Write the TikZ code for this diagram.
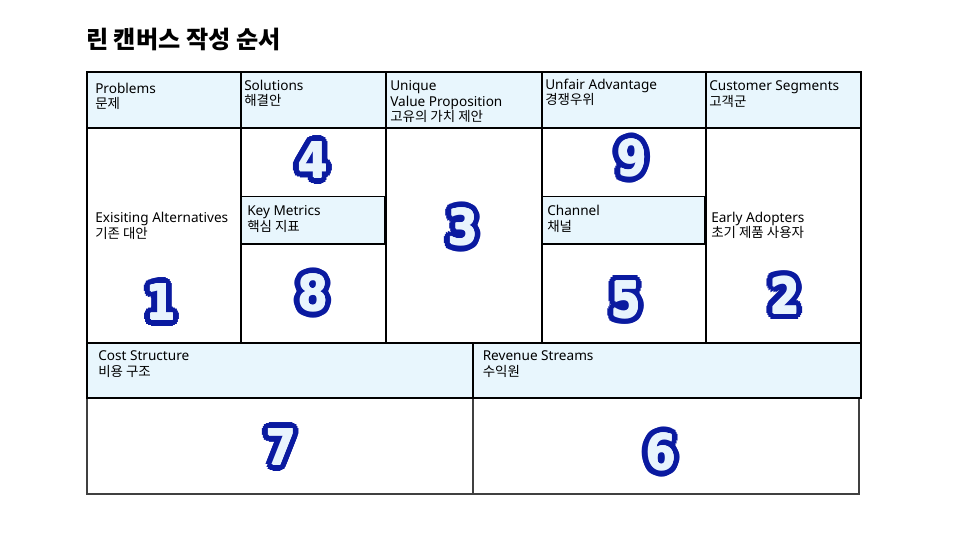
\documentclass[tikz,border=0pt]{standalone}
\usepackage{fontspec}
\setmainfont{Noto Sans}
\newfontfamily\kr{Noto Sans CJK KR}
\newfontfamily\numfont{DejaVu Sans}
\usetikzlibrary{calc}
\definecolor{hdr}{RGB}{232,246,253}
\definecolor{numdark}{RGB}{10,26,160}
\definecolor{numlight}{RGB}{232,244,253}
\tikzset{
  cell/.style={draw=black, line width=0.8pt},
  hcell/.style={cell, fill=hdr},
  lat/.style={anchor=base west, inner sep=0pt, font=\fontsize{10.2}{12}\selectfont},
  kor/.style={anchor=base west, inner sep=0pt, font=\kr\fontsize{10.1}{12}\selectfont},
  numout/.style={inner sep=0pt, text=numdark, font=\numfont\bfseries\fontsize{37}{37}\selectfont, xscale=0.87, transform shape},
  numin/.style={inner sep=0pt, text=numlight, font=\numfont\bfseries\fontsize{37}{37}\selectfont, xscale=0.87, transform shape}
}
\newcommand\bignum[3]{%
  \foreach \a in {0,22.5,...,337.5} \node[numout] at ($(#2)+(\a:6.2)$) {#3};
  \foreach \a in {0,45,...,315} \node[numout] at ($(#2)+(\a:3.2)$) {#3};
  \foreach \a in {0,90,180,270} \node[numin] at ($(#2)+(\a:0.9)$) {#3};
  \node[numin] (#1) at (#2) {#3};}
\begin{document}
\begin{tikzpicture}[x=0.75pt,y=-0.75pt]
\useasboundingbox[fill=white] (0,0) rectangle (960,540);
% title
\node[anchor=base west, inner sep=0pt, font=\kr\bfseries\fontsize{18.1}{20}\selectfont] (title) at (86,48.5) {린 캔버스 작성 순서};
% middle cells
\draw[cell] (87,128) rectangle (241,343);
\draw[cell] (241,128) rectangle (386,343);
\draw[cell] (386,128) rectangle (542,343);
\draw[cell] (542,128) rectangle (706,343);
\draw[cell] (706,128) rectangle (861,343);
% headers
\draw[hcell] (241,72) rectangle (386,128);
\draw[hcell] (386,72) rectangle (542,128);
\draw[hcell] (542,72) rectangle (706,128);
\draw[hcell] (706,72) rectangle (861,128);
\draw[hcell] (87,72) rectangle (241,128);
\draw[line width=1.6pt] (87,72) -- (241,72);
% inner boxes
\draw[hcell] (241,196.5) rectangle (385,244);
\draw[hcell] (542,196.5) rectangle (705,244);
% bottom
\draw[cell, draw=black!75] (87,398) rectangle (473,494);
\draw[cell, draw=black!75] (473,398) rectangle (859,494);
\draw[hcell] (87,343) rectangle (473,398);
\draw[hcell] (473,343) rectangle (861,398);
\draw[line width=1.6pt] (87,343) -- (861,343);
% texts
\node[lat] (t1) at (95,93) {Problems};
\node[kor] (k1) at (95,108.5) {문제};
\node[lat] (t2) at (244,90) {Solutions};
\node[kor] (k2) at (244,105.5) {해결안};
\node[lat] (t3) at (390,90.5) {Unique};
\node[lat] (t3b) at (390,106) {Value Proposition};
\node[kor] (k3) at (390,121) {고유의 가치 제안};
\node[lat] (t4) at (545,89) {Unfair Advantage};
\node[kor] (k4) at (545,104.5) {경쟁우위};
\node[lat] (t5) at (709,90.5) {Customer Segments};
\node[kor] (k5) at (709,106) {고객군};
\node[lat] (t6) at (247,215.5) {Key Metrics};
\node[kor] (k6) at (247,231) {핵심 지표};
\node[lat] (t7) at (95,222.5) {Exisiting Alternatives};
\node[kor] (k7) at (95,238) {기존 대안};
\node[lat] (t8) at (547,215.5) {Channel};
\node[kor] (k8) at (547,231) {채널};
\node[lat] (t9) at (711,222) {Early Adopters};
\node[kor] (k9) at (711,237.5) {초기 제품 사용자};
\node[lat] (t10) at (98,360.5) {Cost Structure};
\node[kor] (k10) at (98,376) {비용 구조};
\node[lat] (t11) at (482.5,360.5) {Revenue Streams};
\node[kor] (k11) at (482.5,376) {수익원};
% numbers
\bignum{n1}{161,302}{1}
\bignum{n4}{313,160}{4}
\bignum{n8}{313,293}{8}
\bignum{n3}{463,227}{3}
\bignum{n9}{632,158}{9}
\bignum{n5}{626,300}{5}
\bignum{n2}{785,295}{2}
\bignum{n7}{281,447}{7}
\bignum{n6}{661,452}{6}
\end{tikzpicture}
\end{document}
